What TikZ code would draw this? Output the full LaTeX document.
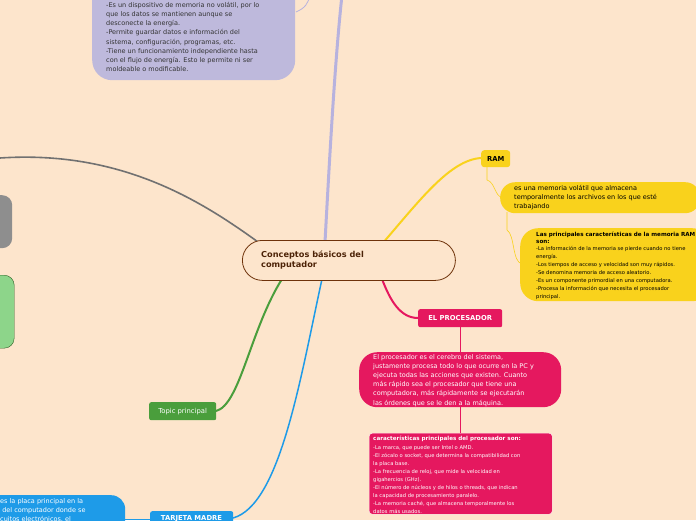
\documentclass[tikz,border=0pt]{standalone}
\usepackage{fontspec}
\setmainfont{DejaVu Sans}
\begin{document}
\begin{tikzpicture}[x=1pt,y=-1pt,
 box/.style={inner sep=0pt},
 txt/.style={anchor=north west,align=left,font=\fontsize{6.5}{9.2}\selectfont,inner sep=0pt},
 small/.style={anchor=north west,align=left,font=\fontsize{5.2}{8}\selectfont,inner sep=0pt}]
\definecolor{bg}{RGB}{253,229,204}
\definecolor{pur}{RGB}{190,185,220}
\definecolor{purl}{RGB}{183,178,222}
\definecolor{brn}{RGB}{110,50,10}
\definecolor{yel}{RGB}{249,210,28}
\definecolor{red}{RGB}{229,24,95}
\definecolor{blu}{RGB}{30,155,232}
\definecolor{grn}{RGB}{74,158,60}
\definecolor{lgrn}{RGB}{141,213,138}
\definecolor{gry}{RGB}{142,142,142}
\path[use as bounding box,fill=bg] (0,0) rectangle (696,520);
\begin{scope}
\clip (0,0) rectangle (696,520);
% connectors
\draw[purl,line width=3pt] (325,242) .. controls (330,150) and (335,60) .. (342,-5);
\draw[purl,line width=0.8pt] (296,12) .. controls (305,8) and (308,4) .. (310,-5);
\draw[gry!80!black,line width=1.6pt] (0,158) .. controls (120,150) and (200,200) .. (258,242);
\draw[grn,line width=2pt] (282,279) .. controls (250,330) and (240,405) .. (216,411);
\draw[blu,line width=1.5pt] (322,279) .. controls (300,380) and (280,505) .. (233,518);
\draw[yel,line width=2pt] (382,244) .. controls (420,200) and (450,160) .. (481,158);
\draw[red,line width=2pt] (382,279) .. controls (390,300) and (400,318) .. (418,318);
\draw[yel,line width=0.6pt] (487,167) -- (487,180) .. controls (495,182) and (495,197) .. (502,197);
\draw[yel,line width=0.6pt] (507,212) -- (507,230) .. controls (515,235) and (512,262) .. (522,264);
\draw[red,line width=0.8pt] (460,326) -- (460,353);
\draw[red,line width=0.8pt] (460,407) -- (460,434);
\draw[blu,line width=0.8pt] (124,519) -- (150,519);
% purple box
\node[box,fill=pur,rounded corners=20pt,minimum width=203pt,minimum height=100pt,anchor=north west] (pb) at (92,-20) {};
\node[txt,text=black!80] (pt) at (106,-7) {Inmune a la interferencias externa.\\-Es un dispositivo de memoria no volátil, por lo\\que los datos se mantienen aunque se\\desconecte la energía.\\-Permite guardar datos e información del\\sistema, configuración, programas, etc.\\-Tiene un funcionamiento independiente hasta\\con el flujo de energía. Esto le permite ni ser\\moldeable o modificable.};
% gray, green left
\node[box,fill=gry,rounded corners=10pt,minimum width=32pt,minimum height=53pt,anchor=north west] (g) at (-20,195) {};
\node[box,fill=lgrn,draw=grn!60!black,rounded corners=10pt,minimum width=34pt,minimum height=73pt,anchor=north west] (lg) at (-20,275) {};
% center
\node[box,fill=bg,draw=brn,line width=0.8pt,rounded corners=20pt,minimum width=213pt,minimum height=40pt,anchor=north west] (ctr) at (242,240) {};
\node[anchor=west,align=left,font=\bfseries\fontsize{8.2}{10}\selectfont,text=brn!70!black,inner sep=0pt] at (261,260) {Conceptos básicos del\\computador};
% topic principal
\node[box,fill=grn,rounded corners=2pt,minimum width=67pt,minimum height=18pt,anchor=north west,text=white,font=\fontsize{6.8}{8}\selectfont] (tp) at (149,402) {Topic principal};
% tarjeta madre
\node[box,fill=blu,rounded corners=2pt,minimum width=83pt,minimum height=18pt,anchor=north west] (tm) at (150,511) {};
\node[anchor=north,text=white,font=\bfseries\fontsize{6.8}{8}\selectfont,inner sep=0pt] at (191.5,515) {TARJETA MADRE};
\node[box,fill=blu,rounded corners=14pt,minimum width=145pt,minimum height=40pt,anchor=north west] (bb) at (-20,495) {};
\node[txt,text=white] at (0,498) {es la placa principal en la\\\ del computador donde se\\cuitos electrónicos, el};
% RAM
\node[box,fill=yel,rounded corners=3pt,minimum width=29pt,minimum height=17pt,anchor=north west,font=\bfseries\fontsize{6.8}{8}\selectfont] (ram) at (481,150) {RAM};
\node[box,fill=yel,rounded corners=15pt,minimum width=200pt,minimum height=31pt,anchor=north west] (r1) at (500,182) {};
\node[txt] at (514,185) {es una memoria volátil que almacena\\temporalmente los archivos en los que esté\\trabajando};
\node[box,fill=yel,rounded corners=18pt,minimum width=190pt,minimum height=73pt,anchor=north west] (r2) at (520,228) {};
\node[small,font=\bfseries\fontsize{5.6}{6.5}\selectfont] at (536,232) {Las principales características de la memoria RAM\\son:};
\node[small] at (536,246) {-La información de la memoria se pierde cuando no tiene\\energía.\\-Los tiempos de acceso y velocidad son muy rápidos.\\-Se denomina memoria de acceso aleatorio.\\-Es un componente primordial en una computadora.\\-Procesa la información que necesita el procesador\\principal.};
% procesador
\node[box,fill=red,rounded corners=2pt,minimum width=84pt,minimum height=18pt,anchor=north west,text=white,font=\bfseries\fontsize{6.8}{8}\selectfont] (proc) at (418,309) {EL PROCESADOR};
\node[box,fill=red,rounded corners=18pt,minimum width=202pt,minimum height=55pt,anchor=north west] (p1) at (359,352) {};
\node[txt,text=white] at (373,354) {El procesador es el cerebro del sistema,\\justamente procesa todo lo que ocurre en la PC y\\ejecuta todas las acciones que existen. Cuanto\\más rápido sea el procesador que tiene una\\computadora, más rápidamente se ejecutarán\\las órdenes que se le den a la máquina.};
\node[box,fill=red,draw=white,line width=0.4pt,rounded corners=3pt,minimum width=183pt,minimum height=81pt,anchor=north west] (p2) at (369,433) {};
\node[small,text=white,font=\bfseries\fontsize{5.6}{6.5}\selectfont] at (373,436) {características principales del procesador son:};
\node[small,text=white] at (373,445) {-La marca, que puede ser Intel o AMD.\\-El zócalo o socket, que determina la compatibilidad con\\la placa base.\\-La frecuencia de reloj, que mide la velocidad en\\gigahercios (GHz).\\-El número de núcleos y de hilos o threads, que indican\\la capacidad de procesamiento paralelo.\\-La memoria caché, que almacena temporalmente los\\datos más usados.};
\end{scope}
\end{tikzpicture}
\end{document}
